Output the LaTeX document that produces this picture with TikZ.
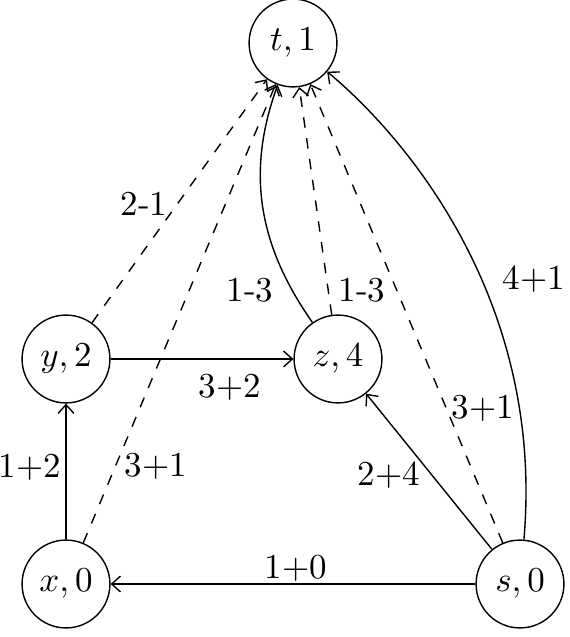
\documentclass[tikz,border=0pt]{standalone}
\usetikzlibrary{arrows.meta}
\begin{document}
\begin{tikzpicture}[x=0.2857pt,y=-0.2857pt,font=\fontsize{10}{12}\selectfont,
  vtx/.style={draw,circle,minimum size=25.1pt,inner sep=0pt},
  arr/.style={->,>={Straight Barb[length=2.5pt,width=4.5pt]}},
  lbl/.style={inner sep=0pt}]
\useasboundingbox (0,0) rectangle (569,637);
\node[vtx] (t) at (293,43) {$t,1$};
\node[vtx] (y) at (66,359) {$y,2$};
\node[vtx] (z) at (338,359) {$z,4$};
\node[vtx] (x) at (66,584) {$x,0$};
\node[vtx] (s) at (520,584) {$s,0$};
% solid edges
\draw[arr] (y) -- (z);
\draw[arr] (x) -- (y);
\draw[arr] (s) -- (x);
\draw[arr] (s) -- (z);
\draw[arr] (s) to[out=85,in=-40,out looseness=1.15,in looseness=0.6] (t);
\draw[arr] (z) to[out=125,in=-110,looseness=1] (t);
% dashed edges
\draw[arr,dashed] (y) -- (t);
\draw[arr,dashed] (x) -- (t);
\draw[arr,dashed] (z) -- (t);
\draw[arr,dashed] (s) -- (t);
% labels
\node[lbl] (l1) at (144,204) {2-1};
\node[lbl] (l2) at (250,290) {1-3};
\node[lbl] (l3) at (362,290) {1-3};
\node[lbl] (l4) at (534,279) {4+1};
\node[lbl] (l5) at (230,387) {3+2};
\node[lbl] (l6) at (483,408) {3+1};
\node[lbl] (l7) at (30,467) {1+2};
\node[lbl] (l8) at (156,466) {3+1};
\node[lbl] (l9) at (389,475) {2+4};
\node[lbl] (l10) at (296,568) {1+0};
\end{tikzpicture}
\end{document}
